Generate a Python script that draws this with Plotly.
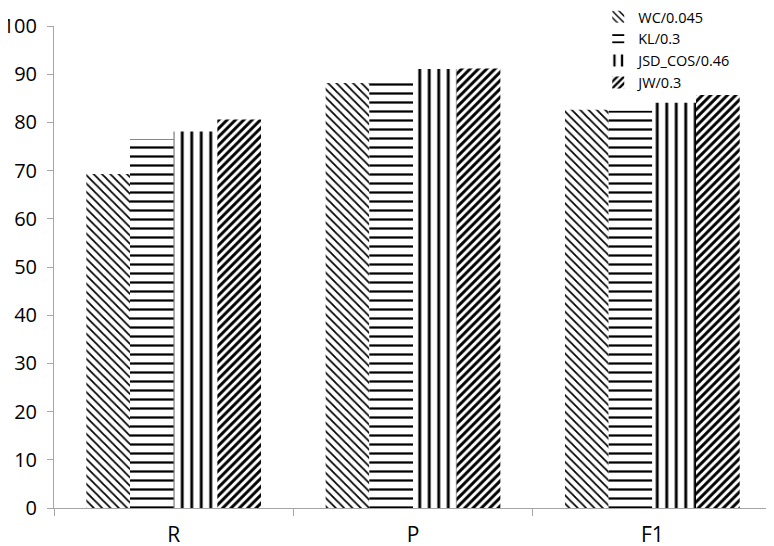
import plotly.graph_objects as go

categories = ["R", "P", "F1"]

series_names = ["WC/0.045", "KL/0.3", "JSD_COS/0.46", "JW/0.3"]

wc_values = [69.3, 88.2, 82.6]
kl_values = [76.5, 88.2, 82.4]
jsd_cos_values = [78.1, 91.1, 84.1]
jw_values = [80.6, 91.2, 85.7]

y_ticks = list(range(0, 101, 10))

all_values = [wc_values, kl_values, jsd_cos_values, jw_values]

# pattern per series: shape, tile size, line thickness
patterns = [
    dict(shape="\\", size=5.9, solidity=0.3),
    dict(shape="-", size=9, solidity=0.25),
    dict(shape="|", size=9.5, solidity=0.3),
    dict(shape="/", size=5.9, solidity=0.5),
]

fig = go.Figure()

for name, values, pat in zip(series_names, all_values, patterns):
    fig.add_trace(
        go.Bar(
            x=categories,
            y=values,
            name=name,
            marker=dict(
                color="white",
                line=dict(width=0),
                pattern=dict(
                    shape=pat["shape"],
                    size=pat["size"],
                    solidity=pat["solidity"],
                    fgcolor="black",
                    bgcolor="white",
                    fillmode="replace",
                ),
            ),
        )
    )

# page is drawn with an 8px body offset, margins below account for it
fig.update_layout(
    width=774,
    height=546,
    barmode="group",
    bargap=0.27,
    bargroupgap=0,
    plot_bgcolor="white",
    paper_bgcolor="white",
    margin=dict(l=46, r=10, t=18, b=46, autoexpand=False),
    font=dict(family="Open Sans", size=20, color="black"),
    legend=dict(
        x=0.758,
        y=1.052,
        xanchor="left",
        yanchor="top",
        bgcolor="rgba(0,0,0,0)",
        font=dict(size=14.5),
        tracegroupgap=0,
        itemwidth=30,
    ),
)

fig.update_xaxes(
    showline=True,
    linecolor="#a6a6a6",
    linewidth=1,
    ticks="outside",
    tickson="boundaries",
    ticklen=7,
    tickcolor="#a6a6a6",
    showgrid=False,
    automargin=False,
    ticklabelstandoff=8,
    tickfont=dict(size=21),
)

fig.update_yaxes(
    range=[0, 100],
    tickvals=y_ticks,
    showline=True,
    linecolor="#a6a6a6",
    linewidth=1,
    ticks="outside",
    ticklen=6,
    tickcolor="#a6a6a6",
    showgrid=False,
    zeroline=False,
    automargin=False,
    ticklabelstandoff=6,
    tickfont=dict(size=20),
)

fig.write_html("out.html")
